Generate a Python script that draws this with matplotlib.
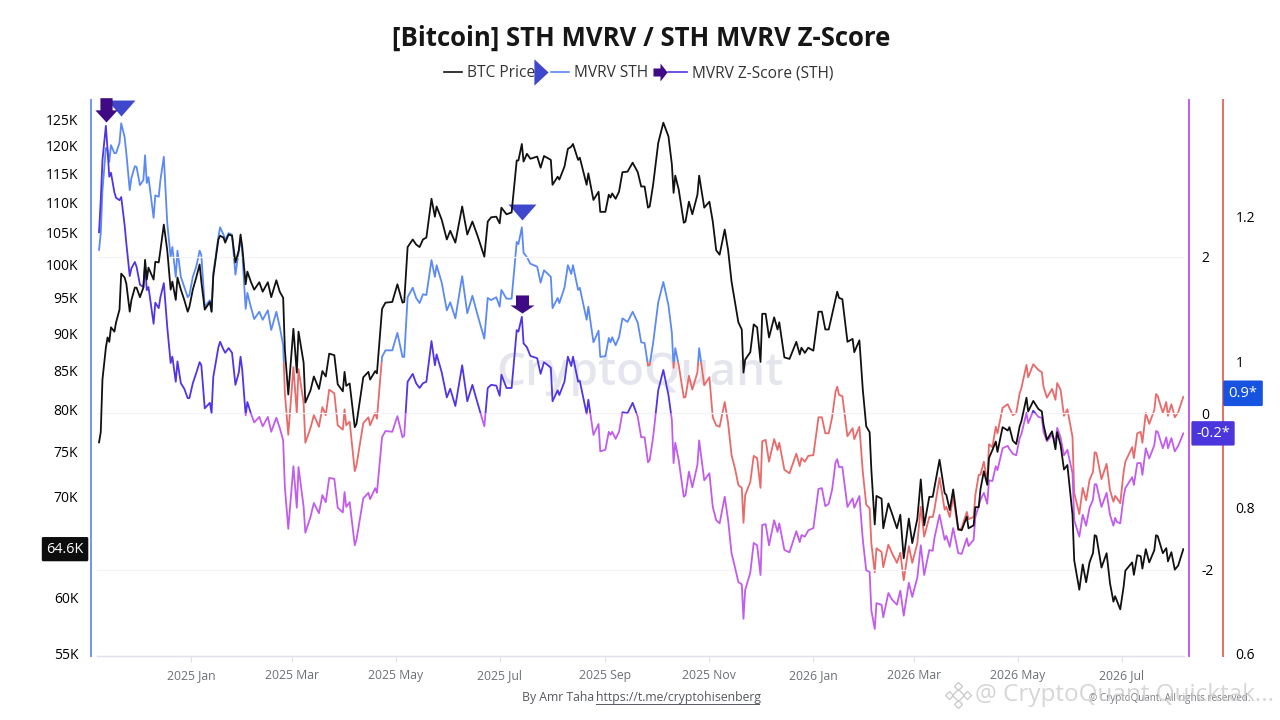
import numpy as np
import matplotlib
matplotlib.use('Agg')
import matplotlib.pyplot as plt
import matplotlib.dates as mdates
from matplotlib.lines import Line2D
from matplotlib.path import Path
from matplotlib.patches import Rectangle
from matplotlib.transforms import offset_copy

plt.rcParams['font.family'] = ['Open Sans', 'DejaVu Sans']

# days since 2024-11-08, shared by the three series
days = [
    0, 1, 2, 4, 5, 6, 7, 9, 10, 12, 13, 15, 16, 18, 19, 21, 22, 24, 26, 27,
    28, 29, 32, 33, 35, 36, 38, 40, 42, 43, 45, 46, 48, 50, 52, 53, 55, 57, 59, 60,
    62, 65, 66, 67, 70, 71, 73, 74, 76, 78, 80, 82, 83, 84, 86, 87, 89, 91, 94, 96,
    99, 101, 104, 106, 108, 109, 111, 114, 116, 117, 120, 121, 124, 126, 129, 131, 133, 135, 138, 140,
    143, 144, 145, 147, 150, 151, 155, 158, 159, 162, 163, 166, 168, 172, 175, 178, 179, 181, 184, 186,
    188, 190, 192, 195, 197, 198, 201, 204, 206, 209, 213, 216, 219, 222, 226, 228, 230, 233, 235, 236,
    239, 242, 245, 246, 248, 249, 251, 253, 257, 259, 261, 265, 266, 269, 270, 273, 275, 277, 278, 281,
    282, 286, 287, 290, 293, 294, 297, 299, 300, 301, 303, 305, 307, 310, 313, 316, 318, 320, 322, 323,
    325, 328, 331, 334, 336, 337, 338, 340, 343, 344, 346, 348, 351, 352, 355, 358, 360, 362, 364, 367,
    369, 371, 373, 375, 377, 378, 379, 382, 384, 386, 388, 389, 391, 393, 396, 398, 399, 402, 405, 409,
    411, 412, 414, 416, 419, 420, 422, 424, 426, 428, 430, 432, 433, 434, 436, 439, 442, 443, 446, 448,
    450, 452, 453, 455, 456, 459, 460, 463, 465, 468, 470, 472, 475, 477, 480, 482, 484, 487, 489, 490,
    493, 496, 497, 499, 501, 504, 506, 509, 510, 513, 514, 516, 517, 519, 521, 522, 524, 526, 527, 530,
    533, 534, 536, 538, 540, 541, 544, 545, 548, 551, 553, 554, 556, 559, 561, 562, 564, 566, 568, 571,
    572, 575, 577, 579, 581, 583, 584, 585, 588, 591, 593, 595, 596, 597, 599, 601, 602, 606, 607, 609,
    611, 612, 614, 616, 619, 620, 621, 624, 626, 627, 629, 631, 633, 636,
]

# BTC price, in thousands of USD
btc_price = [
    76.1, 77.3, 83.8, 88.0, 89.4, 88.8, 90.8, 90.2, 91.5, 93.3, 98.6, 98.0, 97.1, 93.0, 94.7, 96.5, 96.5, 95.1, 96.5, 100.7,
    97.7, 99.5, 97.7, 100.4, 100.3, 102.2, 106.3, 102.2, 96.2, 97.4, 94.7, 98.0, 96.2, 94.7, 93.0, 93.7, 96.2, 98.0, 100.0, 97.4,
    93.3, 94.4, 93.0, 98.2, 103.9, 104.5, 104.2, 103.4, 104.7, 104.5, 100.3, 102.2, 104.7, 102.7, 97.0, 98.9, 97.4, 96.2, 97.3, 95.9,
    97.3, 95.1, 97.6, 95.9, 95.0, 87.7, 81.9, 90.6, 84.7, 90.2, 86.0, 80.9, 82.4, 84.2, 82.6, 84.9, 84.2, 87.2, 87.0, 83.2,
    82.3, 84.8, 83.0, 83.3, 77.9, 78.3, 84.1, 84.8, 83.8, 84.9, 84.6, 93.4, 94.3, 94.4, 97.0, 94.3, 94.4, 102.7, 103.9, 103.1,
    102.7, 103.9, 104.2, 110.6, 107.6, 109.3, 107.1, 103.9, 105.3, 103.4, 109.3, 104.7, 106.8, 104.5, 101.2, 106.8, 107.5, 107.6, 106.5, 109.1,
    108.0, 108.3, 117.3, 117.3, 120.3, 117.1, 118.5, 117.6, 118.0, 116.0, 118.1, 117.4, 113.0, 114.4, 113.9, 116.2, 119.4, 119.8, 120.3, 117.4,
    117.8, 113.0, 115.0, 110.4, 111.8, 108.4, 108.4, 111.3, 110.8, 111.5, 110.6, 111.8, 115.2, 115.3, 116.9, 115.2, 112.7, 112.7, 109.1, 109.3,
    113.0, 120.5, 124.3, 121.7, 116.6, 111.6, 114.6, 112.2, 106.6, 106.8, 110.1, 108.0, 111.3, 114.6, 109.1, 110.1, 106.8, 102.2, 101.5, 105.5,
    102.2, 97.4, 94.4, 91.5, 90.5, 84.7, 86.4, 87.4, 91.2, 90.8, 86.1, 92.7, 92.7, 89.4, 92.2, 90.5, 91.5, 86.7, 86.5, 88.8,
    87.1, 88.0, 87.3, 88.0, 87.6, 89.4, 93.0, 93.0, 90.5, 90.5, 92.6, 94.7, 95.9, 95.0, 94.8, 88.8, 89.2, 87.4, 89.0, 82.5,
    78.0, 77.3, 73.0, 67.1, 70.1, 69.8, 66.7, 69.3, 68.3, 66.7, 68.1, 63.7, 67.7, 65.2, 67.7, 71.9, 67.0, 70.0, 70.0, 71.0,
    74.1, 70.4, 70.2, 68.6, 70.8, 66.6, 66.5, 67.9, 66.7, 67.0, 68.9, 68.9, 70.8, 72.8, 71.3, 74.3, 75.2, 76.2, 75.0, 77.9,
    77.5, 77.9, 76.3, 75.9, 78.0, 78.6, 81.5, 79.8, 81.1, 80.1, 79.8, 78.2, 76.4, 77.4, 75.3, 77.3, 75.8, 73.0, 73.5, 68.1,
    63.5, 60.7, 63.1, 61.4, 63.3, 64.2, 66.0, 65.9, 62.8, 64.2, 61.3, 59.6, 60.1, 59.7, 58.9, 61.0, 62.5, 63.3, 62.1, 64.0,
    63.9, 62.7, 64.6, 63.3, 64.5, 66.0, 65.9, 64.2, 64.7, 63.4, 64.3, 62.6, 63.0, 64.6,
]

mvrv_sth = [
    1.154, 1.177, 1.236, 1.294, 1.291, 1.275, 1.298, 1.287, 1.287, 1.301, 1.328, 1.309, 1.287, 1.236, 1.253, 1.269, 1.268, 1.243, 1.25, 1.284,
    1.246, 1.254, 1.198, 1.229, 1.227, 1.25, 1.282, 1.191, 1.144, 1.158, 1.117, 1.153, 1.117, 1.103, 1.089, 1.092, 1.117, 1.131, 1.153, 1.147,
    1.076, 1.085, 1.069, 1.122, 1.172, 1.185, 1.175, 1.168, 1.177, 1.175, 1.12, 1.154, 1.17, 1.151, 1.073, 1.095, 1.076, 1.059, 1.069, 1.058,
    1.071, 1.044, 1.069, 1.048, 1.023, 0.957, 0.9, 0.993, 0.93, 0.99, 0.944, 0.889, 0.909, 0.927, 0.911, 0.938, 0.927, 0.962, 0.957, 0.913,
    0.907, 0.935, 0.913, 0.918, 0.85, 0.858, 0.916, 0.924, 0.913, 0.93, 0.922, 1.007, 1.016, 1.016, 1.04, 1.007, 1.007, 1.089, 1.102, 1.088,
    1.081, 1.093, 1.092, 1.14, 1.117, 1.133, 1.109, 1.071, 1.082, 1.06, 1.118, 1.067, 1.091, 1.065, 1.032, 1.088, 1.085, 1.089, 1.076, 1.099,
    1.087, 1.087, 1.165, 1.162, 1.185, 1.15, 1.144, 1.135, 1.131, 1.109, 1.126, 1.117, 1.074, 1.088, 1.081, 1.102, 1.133, 1.121, 1.133, 1.099,
    1.102, 1.058, 1.076, 1.027, 1.043, 1.007, 1.008, 1.033, 1.027, 1.034, 1.023, 1.034, 1.06, 1.055, 1.069, 1.054, 1.027, 1.026, 0.995, 0.996,
    1.026, 1.082, 1.11, 1.078, 1.04, 0.992, 1.019, 0.996, 0.951, 0.952, 0.981, 0.962, 0.986, 1.019, 0.968, 0.979, 0.924, 0.913, 0.911, 0.945,
    0.916, 0.872, 0.854, 0.831, 0.827, 0.779, 0.817, 0.835, 0.871, 0.868, 0.827, 0.891, 0.893, 0.863, 0.894, 0.879, 0.889, 0.852, 0.847, 0.874,
    0.857, 0.868, 0.863, 0.871, 0.872, 0.889, 0.924, 0.924, 0.902, 0.902, 0.924, 0.959, 0.966, 0.955, 0.953, 0.898, 0.909, 0.894, 0.911, 0.849,
    0.804, 0.799, 0.751, 0.711, 0.744, 0.739, 0.718, 0.749, 0.738, 0.724, 0.738, 0.7, 0.747, 0.724, 0.751, 0.801, 0.76, 0.787, 0.787, 0.797,
    0.841, 0.797, 0.801, 0.787, 0.815, 0.769, 0.772, 0.794, 0.784, 0.787, 0.817, 0.845, 0.845, 0.863, 0.835, 0.887, 0.883, 0.911, 0.902, 0.937,
    0.942, 0.937, 0.927, 0.93, 0.957, 0.964, 0.996, 0.979, 0.997, 0.989, 0.986, 0.966, 0.951, 0.963, 0.948, 0.971, 0.962, 0.926, 0.935, 0.897,
    0.82, 0.791, 0.827, 0.81, 0.838, 0.849, 0.876, 0.875, 0.839, 0.86, 0.824, 0.808, 0.816, 0.813, 0.806, 0.849, 0.863, 0.883, 0.868, 0.902,
    0.904, 0.889, 0.93, 0.915, 0.934, 0.956, 0.953, 0.93, 0.945, 0.926, 0.942, 0.924, 0.931, 0.952,
]

zscore_sth = [
    2.31, 2.72, 3.23, 3.67, 3.36, 3.02, 3.07, 2.82, 2.75, 2.72, 2.76, 2.40, 2.17, 1.75, 1.85, 1.93, 1.87, 1.64, 1.61, 1.89,
    1.57, 1.61, 1.14, 1.41, 1.34, 1.48, 1.66, 1.10, 0.64, 0.72, 0.40, 0.66, 0.38, 0.31, 0.19, 0.19, 0.38, 0.51, 0.65, 0.61,
    0.06, 0.13, 0.0, 0.46, 0.84, 0.91, 0.81, 0.77, 0.83, 0.77, 0.36, 0.52, 0.72, 0.55, -0.03, 0.14, 0.0, -0.12, -0.05, -0.17,
    -0.05, -0.24, -0.06, -0.19, -0.35, -0.95, -1.48, -0.68, -1.21, -0.69, -1.20, -1.53, -1.33, -1.15, -1.28, -1.05, -1.14, -0.83, -0.84, -1.21,
    -1.27, -1.01, -1.20, -1.14, -1.69, -1.62, -1.09, -1.02, -1.10, -0.96, -1.02, -0.31, -0.23, -0.24, -0.04, -0.31, -0.29, 0.40, 0.50, 0.38,
    0.32, 0.38, 0.40, 0.92, 0.61, 0.75, 0.52, 0.20, 0.31, 0.09, 0.61, 0.15, 0.36, 0.13, -0.17, 0.32, 0.36, 0.35, 0.22, 0.49,
    0.32, 0.32, 1.06, 1.04, 1.23, 0.89, 0.84, 0.73, 0.70, 0.50, 0.65, 0.58, 0.15, 0.29, 0.23, 0.40, 0.72, 0.60, 0.72, 0.40,
    0.41, -0.01, 0.17, -0.28, -0.14, -0.49, -0.47, -0.24, -0.28, -0.24, -0.33, -0.24, 0.01, 0.0, 0.13, -0.05, -0.31, -0.31, -0.63, -0.60,
    -0.31, 0.29, 0.55, 0.23, -0.09, -0.64, -0.38, -0.60, -1.07, -1.05, -0.75, -0.95, -0.66, -0.35, -0.86, -0.77, -1.20, -1.37, -1.41, -1.07,
    -1.37, -1.79, -1.97, -2.16, -2.19, -2.63, -2.26, -2.04, -1.66, -1.69, -2.07, -1.43, -1.42, -1.69, -1.37, -1.52, -1.41, -1.75, -1.78, -1.51,
    -1.65, -1.56, -1.58, -1.50, -1.47, -1.30, -0.97, -0.96, -1.19, -1.16, -0.98, -0.63, -0.59, -0.69, -0.69, -1.20, -1.09, -1.21, -1.06, -1.62,
    -2.01, -2.03, -2.52, -2.76, -2.43, -2.45, -2.61, -2.30, -2.38, -2.45, -2.27, -2.59, -2.17, -2.35, -2.10, -1.69, -2.07, -1.75, -1.76, -1.60,
    -1.30, -1.62, -1.57, -1.71, -1.47, -1.79, -1.80, -1.60, -1.70, -1.62, -1.33, -1.18, -1.11, -1.02, -1.16, -0.86, -0.87, -0.68, -0.73, -0.45,
    -0.42, -0.46, -0.52, -0.54, -0.32, -0.27, 0.0, -0.13, 0.03, -0.05, -0.06, -0.24, -0.36, -0.28, -0.36, -0.19, -0.31, -0.54, -0.47, -0.77,
    -1.37, -1.58, -1.30, -1.44, -1.21, -1.11, -0.91, -0.91, -1.20, -1.02, -1.30, -1.44, -1.34, -1.39, -1.41, -1.07, -0.96, -0.82, -0.92, -0.64,
    -0.64, -0.79, -0.45, -0.58, -0.41, -0.23, -0.24, -0.45, -0.31, -0.45, -0.32, -0.49, -0.42, -0.26,
]

price_ticks = [55, 60, 70, 75, 80, 85, 90, 95, 100, 105, 110, 115, 120, 125]
mvrv_ticks = [0.6, 0.8, 1, 1.2]
zscore_ticks = [-2, 0, 2]
month_ticks = ['2025-01-01', '2025-03-01', '2025-05-01', '2025-07-01', '2025-09-01',
               '2025-11-01', '2026-01-01', '2026-03-01', '2026-05-01', '2026-07-01']
month_labels = ['2025 Jan', '2025 Mar', '2025 May', '2025 Jul', '2025 Sep',
                '2025 Nov', '2026 Jan', '2026 Mar', '2026 May', '2026 Jul']

BLACK = '#111111'
BLUE = '#5b8af5'
RED = '#e96a6a'
INDIGO = '#5035e6'
VIOLET = '#c25cee'
MARK_BLUE = '#3f48cc'
MARK_PURPLE = '#3f0a84'

dates = np.datetime64('2024-11-08') + np.array(days).astype('timedelta64[D]')


def px(x, y):
    # figure fraction from pixel position, for the furniture outside the axes
    return x / 1280, 1 - y / 720


def two_tone(ax, values, cut, top, above, below):
    # same line twice, each clipped to its side of the cut value
    for col, y0, y1 in [(above, cut, top), (below, cut - 100, cut)]:
        line, = ax.plot(dates, values, color=col, lw=1.3, solid_joinstyle='round')
        line.set_clip_path(Rectangle((0, y0), 1, y1 - y0, transform=ax.get_yaxis_transform()))


def down_arrow(head_w, stem_w, head_h, stem_h):
    # tip sits on the origin so the marker can hang above a peak
    h = head_w / 2
    s = stem_w / 2
    t = head_h + stem_h
    return Path([(0, 0), (-h, head_h), (-s, head_h), (-s, t), (s, t), (s, head_h), (h, head_h), (0, 0)])


fig = plt.figure(figsize=(12.8, 7.2), dpi=100)
ax = fig.add_axes([97 / 1280, 1 - 656 / 720, (1184 - 97) / 1280, (656 - 100) / 720])
ax_m = ax.twinx()
ax_z = ax.twinx()
ax_m.set_zorder(1)
ax_z.set_zorder(2)
ax.set_zorder(3)
ax.patch.set_visible(False)

# price axis
ax.plot(dates, btc_price, color=BLACK, lw=1.3, solid_joinstyle='round')
ax.set_yscale('log')
ax.set_ylim(54.83, 128.7)
ax.set_yticks(price_ticks)
ax.set_yticklabels([str(v) + 'K' for v in price_ticks], fontsize=11.2, color='#333333')
ax.minorticks_off()
ax.tick_params(axis='y', which='both', length=0, pad=9.5)

start = mdates.date2num(np.datetime64('2024-11-08'))
ax.set_xlim(start - 1.2, start + 636.4)
ax.set_xticks([mdates.date2num(np.datetime64(d)) for d in month_ticks])
ax.set_xticklabels(month_labels, fontsize=8.8, color='#6d7079')
ax.tick_params(axis='x', length=4, width=0.8, color='#dfe0ee', pad=5.5)

for spine in ['top', 'right']:
    ax.spines[spine].set_visible(False)
ax.spines['bottom'].set_color('#dfe0ee')
ax.spines['bottom'].set_linewidth(1.0)
ax.spines['left'].set_position(('outward', 4))
ax.spines['left'].set_color('#7196f0')
ax.spines['left'].set_linewidth(1.4)

# z-score axis, carries the faint grid
two_tone(ax_z, zscore_sth, 0, 10, INDIGO, VIOLET)
ax_z.set_ylim(-3.105, 4.0)
ax_z.set_yticks(zscore_ticks)
ax_z.set_yticklabels([str(v) for v in zscore_ticks], fontsize=10.6, color='#333333')
ax_z.tick_params(axis='y', length=0, pad=9)
ax_z.grid(axis='y', color='#f3f3f7', lw=0.9)
ax_z.set_axisbelow(True)

# mvrv axis
two_tone(ax_m, mvrv_sth, 1, 3, BLUE, RED)
ax_m.set_ylim(0.596, 1.36)
ax_m.set_yticks(mvrv_ticks)
ax_m.set_yticklabels([str(v) for v in mvrv_ticks], fontsize=10.6, color='#333333')
ax_m.tick_params(axis='y', length=0, pad=9)

for a in [ax_z, ax_m]:
    for spine in ['top', 'left', 'bottom']:
        a.spines[spine].set_visible(False)
    a.patch.set_visible(False)
ax_z.spines['right'].set_position(('outward', 3.6))
ax_z.spines['right'].set_color(VIOLET)
ax_z.spines['right'].set_linewidth(1.4)
ax_m.spines['right'].set_position(('outward', 28))
ax_m.spines['right'].set_color(RED)
ax_m.spines['right'].set_linewidth(1.4)

# watermark sits behind everything
fig.text(*px(640, 373), 'CryptoQuant', fontsize=33, fontweight='semibold', color='#e5e6ed',
         ha='center', va='center', zorder=0)

# peak markers
tri = Path([(0, 0), (-14, 16), (14, 16), (0, 0)])
arrow_top = down_arrow(22, 12, 12, 12)
arrow_mid = down_arrow(24, 13, 8, 10)
i_m1 = mvrv_sth.index(max(mvrv_sth))
i_m2 = days.index(248)
i_z1 = zscore_sth.index(max(zscore_sth))
i_z2 = days.index(248)
m_off = offset_copy(ax_m.transData, fig, y=7, units='dots')
z_off = offset_copy(ax_z.transData, fig, y=4, units='dots')
for i in [i_m1, i_m2]:
    ax_m.plot(dates[i], mvrv_sth[i], marker=tri, ms=23, color=MARK_BLUE, mew=0,
              transform=m_off, clip_on=False)
ax_z.plot(dates[i_z1], zscore_sth[i_z1], marker=arrow_top, ms=35, color=MARK_PURPLE, mew=0,
          transform=z_off, clip_on=False)
ax_z.plot(dates[i_z2], zscore_sth[i_z2], marker=arrow_mid, ms=26, color=MARK_PURPLE, mew=0,
          transform=z_off, clip_on=False)

# last value tags
ax.text(-0.0294, btc_price[-1], '64.6K', transform=ax.get_yaxis_transform(), fontsize=10.4, color='white',
        ha='center', va='center', bbox=dict(boxstyle='round,pad=0.32,rounding_size=0.1', fc='#0d0d0d', ec='none'),
        clip_on=False)
ax_m.text(1.0543, mvrv_sth[-1] + 0.005, '0.9*', transform=ax_m.get_yaxis_transform(), fontsize=10.6, color='white',
          ha='center', va='center', bbox=dict(boxstyle='round,pad=0.36,rounding_size=0.1', fc='#1553e0', ec='none'),
          clip_on=False, zorder=10)
ax_z.text(1.0267, zscore_sth[-1], '-0.2*', transform=ax_z.get_yaxis_transform(), fontsize=10.6, color='white',
          ha='center', va='center', bbox=dict(boxstyle='round,pad=0.32,rounding_size=0.1', fc='#4b36dd', ec='none'),
          clip_on=False, zorder=10)

# title and legend
fig.text(*px(641, 38), '[Bitcoin] STH MVRV / STH MVRV Z-Score', fontsize=18.5, fontweight='bold',
         color='#161616', ha='center', va='center')
legend_y = 72
for x0, x1, col in [(444, 462, BLACK), (551, 569, BLUE), (668, 687, INDIGO)]:
    fig.add_artist(Line2D([x0 / 1280, x1 / 1280], [1 - legend_y / 720] * 2, color=col, lw=1.2))
for x0, txt in [(467, 'BTC Price'), (574, 'MVRV STH'), (692, 'MVRV Z-Score (STH)')]:
    fig.text(*px(x0, legend_y + 1), txt, fontsize=11.2, color='#333333', ha='left', va='center')
fig.add_artist(Line2D([541 / 1280], [1 - legend_y / 720], marker=Path([(-7, -13), (7, 0), (-7, 13), (-7, -13)]),
                      ms=19, color=MARK_BLUE, mew=0, ls='none'))
fig.add_artist(Line2D([660 / 1280], [1 - legend_y / 720],
                      marker=Path([(-7, -4), (0, -4), (0, -9), (7, 0), (0, 9), (0, 4), (-7, 4), (-7, -4)]),
                      ms=13, color=MARK_PURPLE, mew=0, ls='none'))

# credit line
fig.text(*px(522, 697), 'By Amr Taha', fontsize=8.8, color='#55585f', ha='left', va='center')
fig.text(*px(596, 697), 'https://t.me/cryptohisenberg', fontsize=8.8, color='#55585f', ha='left', va='center')
fig.add_artist(Line2D([596 / 1280, 759 / 1280], [1 - 704 / 720] * 2, color='#55585f', lw=0.7))
fig.text(*px(1089, 698), '\u00a9 CryptoQuant. All rights reserved.', fontsize=7.1, color='#77797f', ha='left', va='center')

# reposted-from overlay in the corner
fig.text(*px(975, 695), '@ CryptoQuant Quicktak...', fontsize=17.5, color='#c9c9c9', alpha=0.75, ha='left', va='center')
for cx, cy, ms in [(958, 695, 6), (949, 695, 4), (967, 695, 4), (958, 686, 4), (958, 704, 4)]:
    fig.add_artist(Line2D([cx / 1280], [1 - cy / 720], marker='D', ms=ms, mfc='none', mec='#cccccc', mew=1.0, ls='none'))

fig.savefig('out.png', dpi=100, facecolor='white')
